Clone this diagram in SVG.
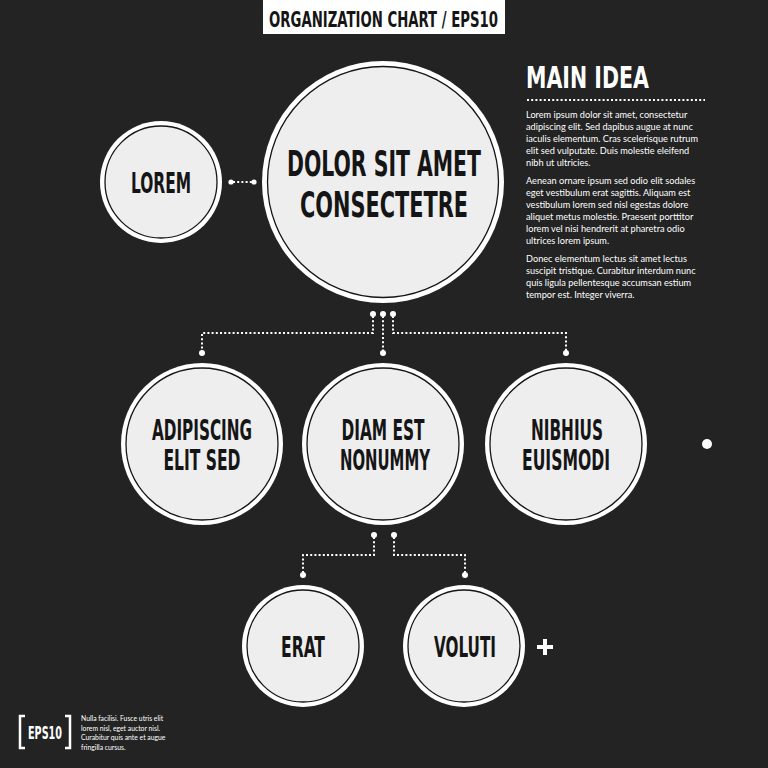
<svg xmlns="http://www.w3.org/2000/svg" width="768" height="768" viewBox="0 0 768 768">
<defs>
<style>
.ring{fill:#ffffff}
.disc{fill:#eeeeee;stroke:#151515;stroke-width:1.3}
.lbl{font-family:"Liberation Sans Narrow","DejaVu Sans Condensed",Roboto,sans-serif;font-weight:bold;fill:#151515;text-anchor:middle}
.dot{fill:none;stroke:#ffffff;stroke-width:2;stroke-dasharray:2 2.2}
.end{fill:#ffffff}
.body{font-family:Lato,"Open Sans","Liberation Sans",sans-serif;font-size:9.2px;fill:#ffffff}
.foot{font-family:Lato,"Open Sans","Liberation Sans",sans-serif;font-size:6.8px;fill:#ffffff}
.head{font-family:"Liberation Sans Narrow","DejaVu Sans Condensed",Roboto,sans-serif;font-weight:bold}
</style>
</defs>
<rect width="768" height="768" fill="#232323"/>

<g id="title">
<rect x="263" y="0" width="242" height="34" fill="#ffffff"/>
<text class="head" x="269" y="27" font-size="22" fill="#151515" textLength="229" lengthAdjust="spacingAndGlyphs">ORGANIZATION CHART / EPS10</text>
</g>

<g id="connectors">
<path class="dot" d="M233 182 H252"/>
<circle class="end" cx="231" cy="182" r="2.6"/>
<circle class="end" cx="254" cy="182" r="2.6"/>
<path class="dot" d="M373 316 V333 H202 V351"/>
<path class="dot" d="M383 316 V351"/>
<path class="dot" d="M393 316 V333 H566 V351"/>
<circle class="end" cx="373" cy="314" r="3"/>
<circle class="end" cx="383" cy="314" r="3"/>
<circle class="end" cx="393" cy="314" r="3"/>
<circle class="end" cx="202" cy="353" r="3"/>
<circle class="end" cx="383" cy="353" r="3"/>
<circle class="end" cx="566" cy="353" r="3"/>
<path class="dot" d="M374 537 V555 H303 V573"/>
<path class="dot" d="M394 537 V555 H465 V573"/>
<circle class="end" cx="374" cy="535" r="3"/>
<circle class="end" cx="394" cy="535" r="3"/>
<circle class="end" cx="303" cy="575" r="3"/>
<circle class="end" cx="465" cy="575" r="3"/>
</g>

<g id="lorem">
<circle class="ring" cx="161" cy="182" r="61"/>
<circle class="disc" cx="161" cy="182" r="56"/>
<text class="lbl" x="161" y="193" font-size="28" textLength="60" lengthAdjust="spacingAndGlyphs">LOREM</text>
</g>

<g id="main">
<circle class="ring" cx="383" cy="182" r="121"/>
<circle class="disc" cx="383" cy="182" r="115.5"/>
<text class="lbl" x="384" y="176" font-size="35" textLength="194" lengthAdjust="spacingAndGlyphs">DOLOR SIT AMET</text>
<text class="lbl" x="384" y="217" font-size="35" textLength="168" lengthAdjust="spacingAndGlyphs">CONSECTETRE</text>
</g>

<g id="adipiscing">
<circle class="ring" cx="202" cy="444" r="81"/>
<circle class="disc" cx="202" cy="444" r="76"/>
<text class="lbl" x="202" y="440" font-size="29" textLength="100" lengthAdjust="spacingAndGlyphs">ADIPISCING</text>
<text class="lbl" x="202" y="470" font-size="29" textLength="77" lengthAdjust="spacingAndGlyphs">ELIT SED</text>
</g>

<g id="diam">
<circle class="ring" cx="383" cy="444" r="81"/>
<circle class="disc" cx="383" cy="444" r="76"/>
<text class="lbl" x="383" y="440" font-size="29" textLength="83" lengthAdjust="spacingAndGlyphs">DIAM EST</text>
<text class="lbl" x="385" y="470" font-size="29" textLength="90" lengthAdjust="spacingAndGlyphs">NONUMMY</text>
</g>

<g id="nibhius">
<circle class="ring" cx="566" cy="444" r="81"/>
<circle class="disc" cx="566" cy="444" r="76"/>
<text class="lbl" x="567" y="440" font-size="29" textLength="72" lengthAdjust="spacingAndGlyphs">NIBHIUS</text>
<text class="lbl" x="566" y="470" font-size="29" textLength="88" lengthAdjust="spacingAndGlyphs">EUISMODI</text>
</g>

<g id="erat">
<circle class="ring" cx="303" cy="646" r="61"/>
<circle class="disc" cx="303" cy="646" r="56"/>
<text class="lbl" x="303" y="657" font-size="28" textLength="44" lengthAdjust="spacingAndGlyphs">ERAT</text>
</g>

<g id="voluti">
<circle class="ring" cx="464" cy="646" r="61"/>
<circle class="disc" cx="464" cy="646" r="56"/>
<text class="lbl" x="465" y="657" font-size="28" textLength="62" lengthAdjust="spacingAndGlyphs">VOLUTI</text>
</g>

<g id="decor">
<path d="M545 639 V655 M537 647 H553" stroke="#ffffff" stroke-width="4"/>
<circle cx="707" cy="444" r="5" fill="#ffffff"/>
</g>

<g id="main-idea">
<text class="head" x="526" y="88" font-size="31" fill="#ffffff" textLength="123" lengthAdjust="spacingAndGlyphs">MAIN IDEA</text>
<path d="M527 100 H705" stroke="#ffffff" stroke-width="2" stroke-dasharray="2 2.2"/>
<text class="body" x="526" y="118">Lorem ipsum dolor sit amet, consectetur</text>
<text class="body" x="526" y="130">adipiscing elit. Sed dapibus augue at nunc</text>
<text class="body" x="526" y="142">iaculis elementum. Cras scelerisque rutrum</text>
<text class="body" x="526" y="154">elit sed vulputate. Duis molestie eleifend</text>
<text class="body" x="526" y="166">nibh ut ultricies.</text>
<text class="body" x="526" y="184">Aenean ornare ipsum sed odio elit sodales</text>
<text class="body" x="526" y="196">eget vestibulum erat sagittis. Aliquam est</text>
<text class="body" x="526" y="208">vestibulum lorem sed nisl egestas dolore</text>
<text class="body" x="526" y="220">aliquet metus molestie. Praesent porttitor</text>
<text class="body" x="526" y="232">lorem vel nisi hendrerit at pharetra odio</text>
<text class="body" x="526" y="244">ultrices lorem ipsum.</text>
<text class="body" x="526" y="262">Donec elementum lectus sit amet lectus</text>
<text class="body" x="526" y="274">suscipit tristique. Curabitur interdum nunc</text>
<text class="body" x="526" y="286">quis ligula pellentesque accumsan estium</text>
<text class="body" x="526" y="298">tempor est. Integer viverra.</text>
</g>

<g id="footer">
<path d="M25 716 H20 V748 H25 M65 716 H70 V748 H65" fill="none" stroke="#ffffff" stroke-width="2.5"/>
<text class="head" x="45" y="739" font-size="18" fill="#ffffff" text-anchor="middle" textLength="34" lengthAdjust="spacingAndGlyphs">EPS10</text>
<text class="foot" x="81" y="721">Nulla facilisi. Fusce utris elit</text>
<text class="foot" x="81" y="730.5">lorem nisl, eget auctor nisl.</text>
<text class="foot" x="81" y="740">Curabitur quis ante et augue</text>
<text class="foot" x="81" y="749.5">fringilla cursus.</text>
</g>
</svg>
